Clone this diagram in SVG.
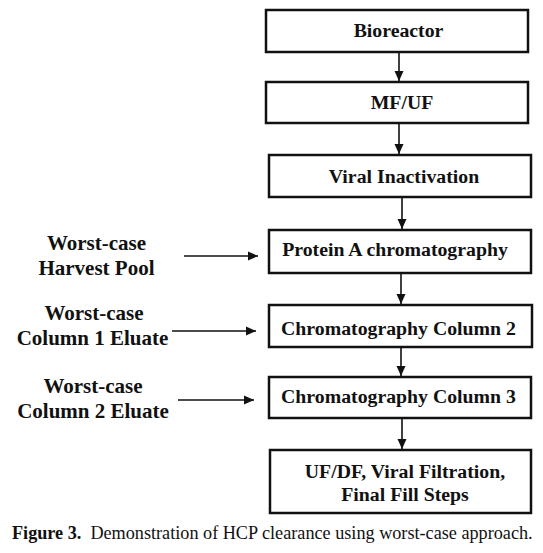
<svg xmlns="http://www.w3.org/2000/svg" width="543" height="553" viewBox="0 0 543 553">
<style>
.box{fill:#fff;stroke:#111;stroke-width:2.5}
.bt{font-family:"Liberation Serif","Times New Roman",serif;font-weight:bold;font-size:19.8px;fill:#111;text-anchor:middle}
.lt{font-family:"Liberation Serif","Times New Roman",serif;font-weight:bold;font-size:21px;fill:#111;text-anchor:middle}
.cap{font-family:"Liberation Serif","Times New Roman",serif;font-size:18.2px;fill:#111}
.ln{stroke:#111;stroke-width:1.6;fill:none;marker-end:url(#ah)}
</style>
<defs>
<marker id="ah" markerUnits="userSpaceOnUse" markerWidth="12" markerHeight="12" viewBox="0 0 12 12" refX="11" refY="6" orient="auto">
<path d="M1,1.5 L11,6 L1,10.5 Z" fill="#111"/>
</marker>
</defs>
<rect width="543" height="553" fill="#fff"/>
<g id="connectors">
<line class="ln" x1="399" y1="52" x2="399" y2="81"/>
<line class="ln" x1="399" y1="123" x2="399" y2="154"/>
<line class="ln" x1="402" y1="197" x2="402" y2="229"/>
<line class="ln" x1="401" y1="273" x2="401" y2="304"/>
<line class="ln" x1="401" y1="347" x2="401" y2="376"/>
<line class="ln" x1="402" y1="418" x2="402" y2="449"/>
<line class="ln" x1="184" y1="256" x2="258" y2="256"/>
<line class="ln" x1="172" y1="331" x2="256" y2="331"/>
<line class="ln" x1="178" y1="400" x2="254" y2="400"/>
</g>
<g id="bioreactor"><rect class="box" x="266" y="10" width="262" height="42"/><text class="bt" x="398.5" y="37.3">Bioreactor</text></g>
<g id="mfuf"><rect class="box" x="266" y="82" width="262" height="41"/><text class="bt" x="402" y="109.3">MF/UF</text></g>
<g id="viral"><rect class="box" x="269" y="155" width="262" height="42"/><text class="bt" x="404" y="182.7">Viral Inactivation</text></g>
<g id="proteina"><rect class="box" x="269" y="230" width="262" height="43"/><text class="bt" x="395" y="255.7">Protein A chromatography</text></g>
<g id="col2"><rect class="box" x="269" y="305" width="263" height="42"/><text class="bt" x="398.5" y="335">Chromatography Column 2</text></g>
<g id="col3"><rect class="box" x="269" y="377" width="262" height="41"/><text class="bt" x="398.5" y="403">Chromatography Column 3</text></g>
<g id="final"><rect class="box" x="270" y="450" width="261" height="63"/><text class="bt" x="405" y="477.7">UF/DF, Viral Filtration,</text><text class="bt" x="405" y="500.7">Final Fill Steps</text></g>
<g id="label-harvest"><text class="lt" x="96.5" y="250">Worst-case</text><text class="lt" x="96.5" y="275">Harvest Pool</text></g>
<g id="label-col1"><text class="lt" x="94" y="320">Worst-case</text><text class="lt" x="92.5" y="345">Column 1 Eluate</text></g>
<g id="label-col2"><text class="lt" x="93" y="393">Worst-case</text><text class="lt" x="93" y="418">Column 2 Eluate</text></g>
<g id="caption"><text class="cap" x="12" y="539"><tspan font-weight="bold">Figure 3.</tspan><tspan dx="9">Demonstration of HCP clearance using worst-case approach.</tspan></text></g>
</svg>
